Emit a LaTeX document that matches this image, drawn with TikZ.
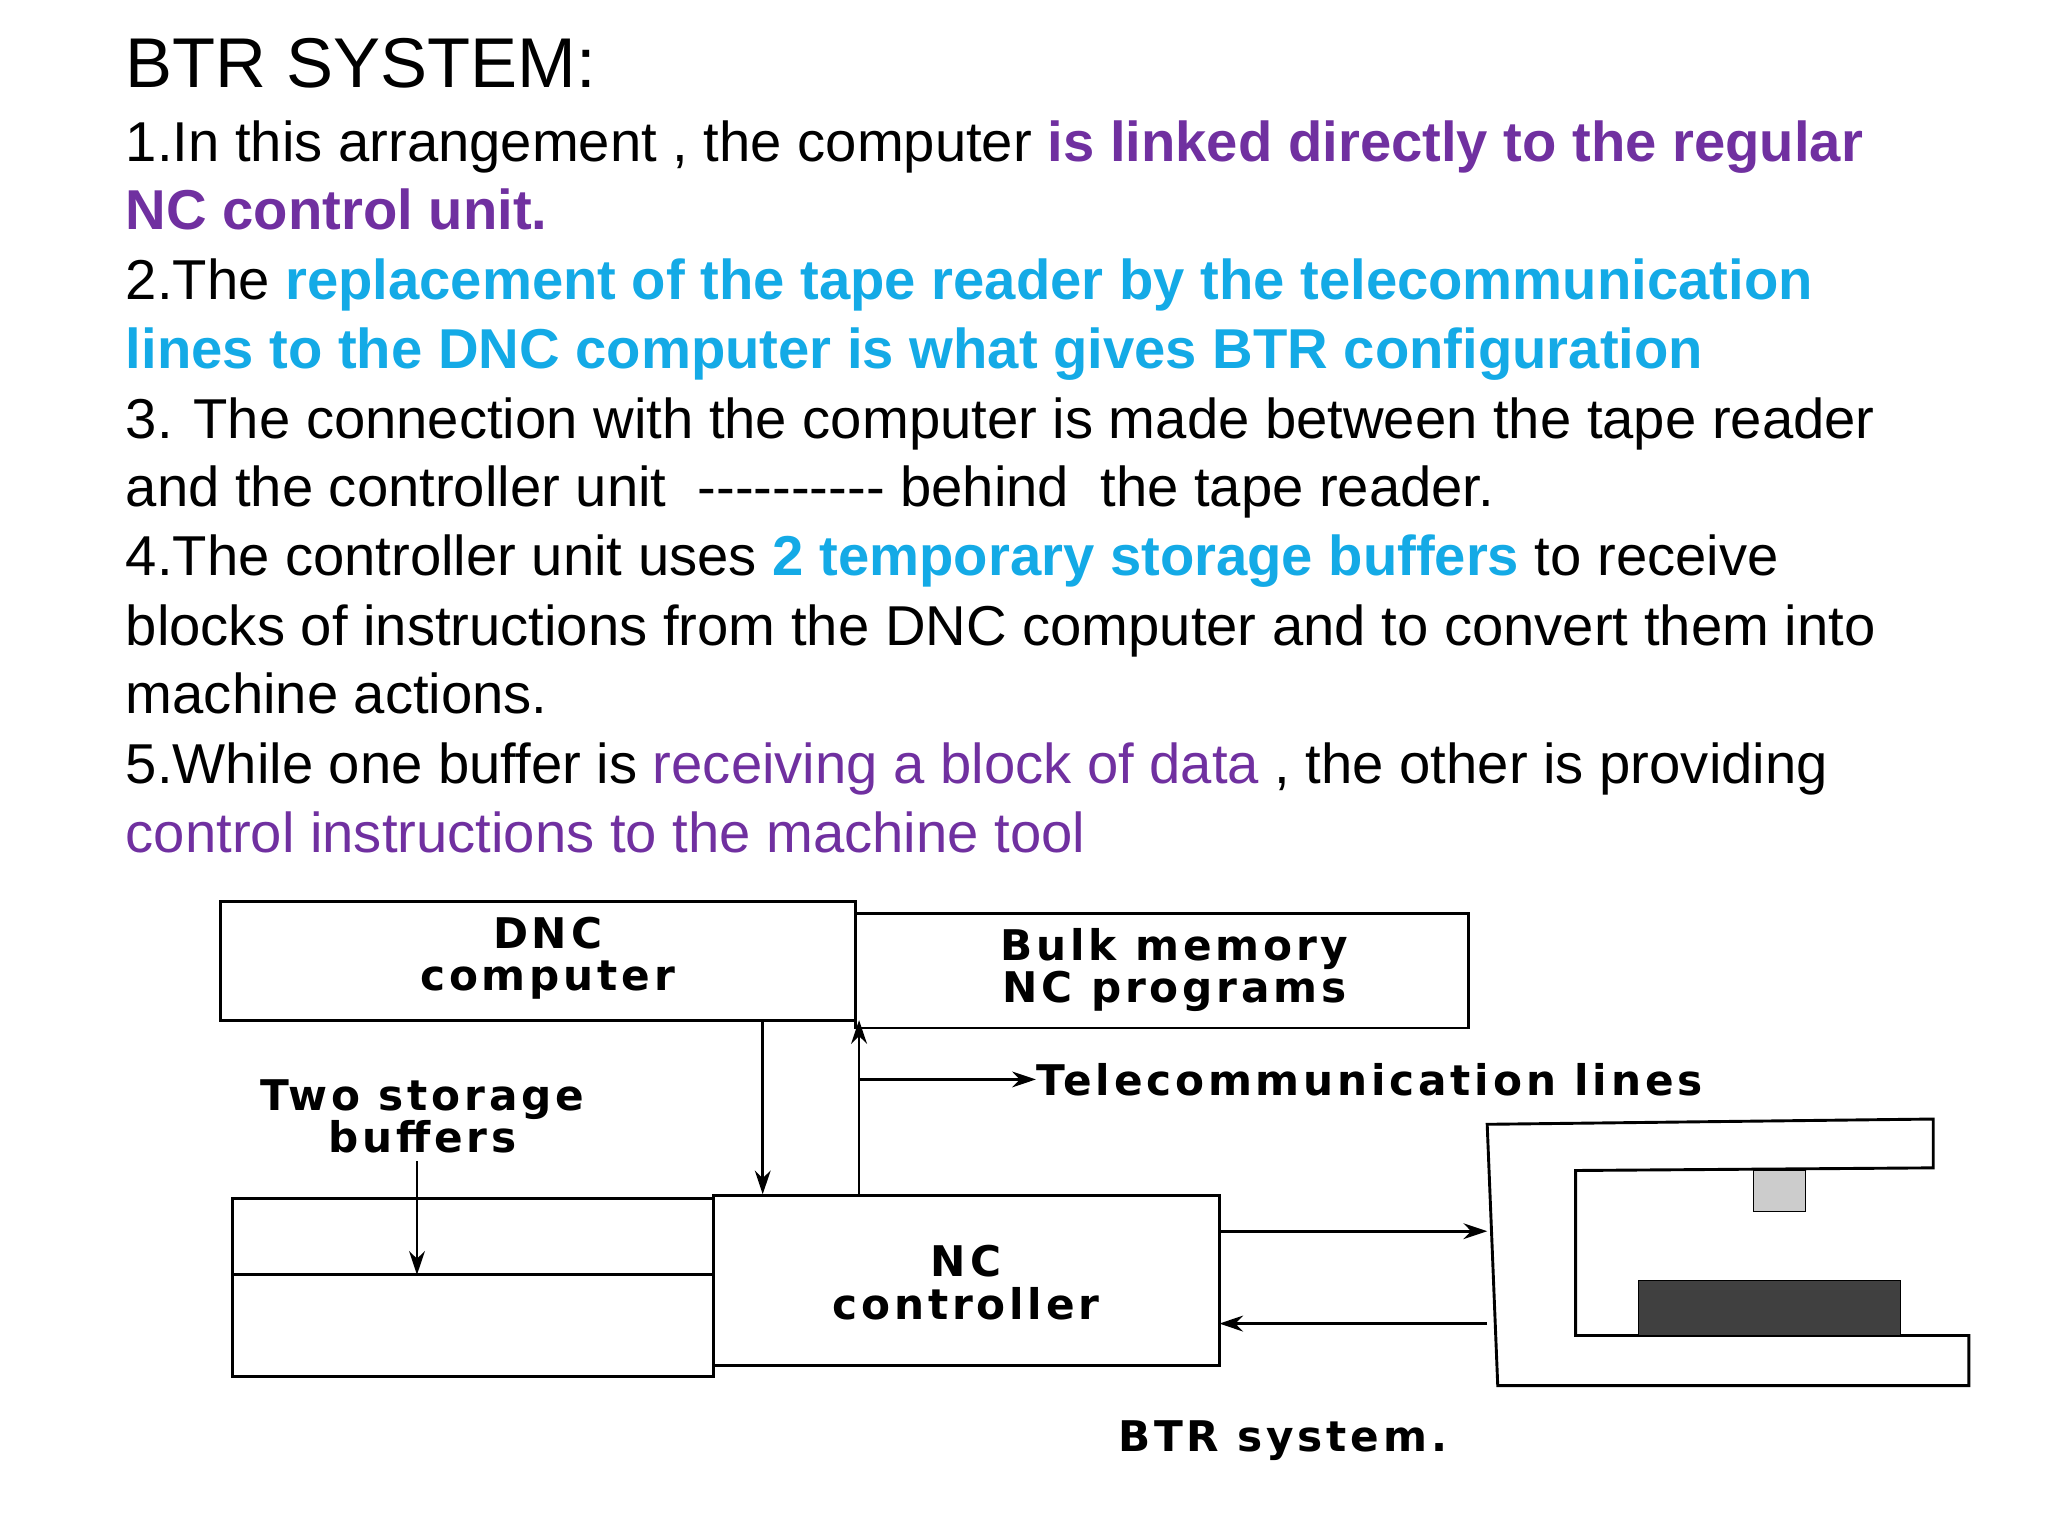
\documentclass[tikz,border=0pt]{standalone}
\usepackage{fontspec}
\setmainfont{Liberation Sans}
\newfontfamily\diagfont[LetterSpace=9]{DejaVu Sans}
\usetikzlibrary{positioning, arrows.meta}
\definecolor{btrpurple}{RGB}{112,48,160}
\definecolor{btrcyan}{RGB}{20,170,230}
\begin{document}
\begin{tikzpicture}[
  x=0.5pt, y=-0.5pt,
  line/.style={anchor=base west, inner sep=0pt, font=\fontsize{21.3}{21.3}\selectfont},
  box/.style={draw=black, line width=1.1pt},
  arrow/.style={-{Stealth[length=9pt,width=6pt]}, line width=1pt},
  dlabel/.style={font=\diagfont\bfseries\fontsize{16}{16}\selectfont, align=center, inner sep=0pt}
]
\useasboundingbox (0,0) rectangle (1552,1164);
% text lines
\node[line, font=\fontsize{26.7}{26.7}\selectfont] (title) at (95,66) {BTR SYSTEM:};
\node[line] (l1) at (95,122) {1.In this arrangement , the computer \textbf{\color{btrpurple}is linked directly to the regular}};
\node[line] (l2) at (95,174) {\textbf{\color{btrpurple}NC control unit.}};
\node[line] (l3) at (95,227) {2.The \textbf{\color{btrcyan}replacement of the tape reader by the telecommunication}};
\node[line] (l4) at (95,279) {\textbf{\color{btrcyan}lines to the DNC computer is what gives BTR configuration}};
\node[line] (l5) at (95,332) {3. The connection with the computer is made between the tape reader};
\node[line] (l6) at (95,384) {and the controller unit \ -{}-{}-{}-{}-{}-{}-{}-{}-{}- behind \ the tape reader.};
\node[line] (l7) at (95,436) {4.The controller unit uses \textbf{\color{btrcyan}2 temporary storage buffers} to receive};
\node[line] (l8) at (95,489) {blocks of instructions from the DNC computer and to convert them into};
\node[line] (l9) at (95,541) {machine actions.};
\node[line] (l10) at (95,594) {5.While one buffer is {\color{btrpurple}receiving a block of data} , the other is providing};
\node[line] (l11) at (95,646) {\color{btrpurple}control instructions to the machine tool};

% boxes
\draw[box] (167,683) rectangle (648,773);
\node[dlabel] (dnc) at (415,726) {DNC\\computer};
\draw[box] (648,692) rectangle (1113,779);
\node[dlabel] (bulk) at (890,735) {Bulk memory\\NC programs};
\draw[box] (176,908) rectangle (541,1043);
\draw[box] (176,966) -- (541,966);
\draw[box] (541,906) rectangle (924,1035);
\node[dlabel] (nc) at (732,972) {NC\\controller};
\node[dlabel] (buf) at (320,846) {Two storage\\buffers};
\node[dlabel, anchor=west] (tel) at (785,818) {Telecommunication lines};
\node[dlabel] (cap) at (972,1092) {BTR system.};

% connectors
\coordinate (dncS) at (578,773);
\coordinate (ncN1) at (578,905);
\coordinate (ncN2) at (651,905);
\coordinate (dncS2) at (651,773);
\coordinate (telS) at (651,818);
\coordinate (bufS) at (316,880);
\coordinate (bufM) at (316,966);
\draw[arrow] (dncS) -- (ncN1);
\draw[arrow] (ncN2) -- (dncS2);
\draw[arrow] (telS) -- (tel.west);
\draw[arrow] (bufS) -- (bufM);

% machine tool
\draw[box] (1127,852) -- (1465,848) -- (1465,885) -- (1194,887) -- (1194,1012)
  -- (1492,1012) -- (1492,1050) -- (1135,1050) -- cycle;
\fill[gray!40, draw=black] (1329,887) rectangle (1368,918);
\fill[black!75, draw=black] (1242,970) rectangle (1440,1012);
\coordinate (mtA) at (1127,933);
\coordinate (mtB) at (1127,1003);
\coordinate (ncE1) at (924,933);
\coordinate (ncE2) at (924,1003);
\draw[arrow] (ncE1) -- (mtA);
\draw[arrow] (mtB) -- (ncE2);
\end{tikzpicture}
\end{document}
